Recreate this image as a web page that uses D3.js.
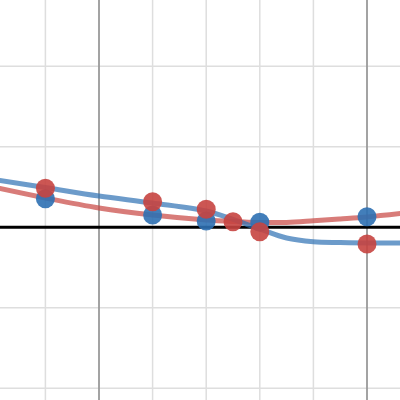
<!DOCTYPE html>
<html><head><meta charset="utf-8">
<script src="https://cdn.jsdelivr.net/npm/d3@7"></script>
<style>html,body{margin:0;padding:0;background:#fff;}svg{display:block;}</style>
</head><body>
<svg id="c" width="400" height="400"></svg>
<script>
// Data
const blueX = [4, 6, 7, 8, 10];
const blueY = [0.354, 0.153, 0.078, 0.062, 0.132];
const redX = [4, 6, 7, 7.5, 8, 10];
const redY = [0.484, 0.318, 0.225, 0.070, -0.055, -0.207];
const blueCurveX = [3.15, 4, 5, 6, 7, 7.5, 8, 8.5, 9, 9.5, 10, 10.62];
const blueCurveY = [0.581, 0.494, 0.389, 0.302, 0.202, 0.097, -0.021, -0.133, -0.179, -0.189, -0.195, -0.195];
const redCurveX = [3.15, 4, 5, 6, 7, 7.5, 8, 8.5, 9, 9.5, 10, 10.62];
const redCurveY = [0.482, 0.364, 0.240, 0.153, 0.091, 0.072, 0.060, 0.060, 0.080, 0.103, 0.128, 0.171];
const xGrid = [4, 5, 6, 7, 8, 9, 10];
const xMajor = [5, 10];
const yGrid = [-2, -1, 1, 2];

const W = 400, H = 400;
const x = d3.scaleLinear().domain([5 - 99 / 53.6, 10 + 33 / 53.6]).range([0, W]);
const y = d3.scaleLinear().domain([-(400 - 227.3) / 80.5, 227.3 / 80.5]).range([H, 0]);
const svg = d3.select("#c");

// minor grid
svg.append("g").selectAll("line").data(xGrid.filter(v => !xMajor.includes(v))).join("line")
  .attr("x1", d => x(d)).attr("x2", d => x(d)).attr("y1", 0).attr("y2", H)
  .attr("stroke", "#dedede").attr("stroke-width", 1.5);
svg.append("g").selectAll("line").data(yGrid).join("line")
  .attr("y1", d => y(d)).attr("y2", d => y(d)).attr("x1", 0).attr("x2", W)
  .attr("stroke", "#dedede").attr("stroke-width", 1.5);
// major grid
svg.append("g").selectAll("line").data(xMajor).join("line")
  .attr("x1", d => x(d)).attr("x2", d => x(d)).attr("y1", 0).attr("y2", H)
  .attr("stroke", "#999").attr("stroke-width", 1.8);
// x axis
svg.append("line").attr("x1", 0).attr("x2", W).attr("y1", y(0)).attr("y2", y(0))
  .attr("stroke", "#000").attr("stroke-width", 3);

const line = d3.line().x(d => x(d[0])).y(d => y(d[1])).curve(d3.curveCatmullRom.alpha(0.5));
svg.append("path").datum(redCurveX.map((v, i) => [v, redCurveY[i]]))
  .attr("d", line).attr("fill", "none").attr("stroke", "#c74440")
  .attr("stroke-opacity", 0.7).attr("stroke-width", 5).attr("stroke-linecap", "round");
svg.append("path").datum(blueCurveX.map((v, i) => [v, blueCurveY[i]]))
  .attr("d", line).attr("fill", "none").attr("stroke", "#2d70b3")
  .attr("stroke-opacity", 0.7).attr("stroke-width", 5).attr("stroke-linecap", "round");

svg.append("g").selectAll("circle").data(blueX.map((v, i) => [v, blueY[i]])).join("circle")
  .attr("cx", d => x(d[0])).attr("cy", d => y(d[1])).attr("r", 9.5)
  .attr("fill", "#2d70b3").attr("fill-opacity", 0.9);
svg.append("g").selectAll("circle").data(redX.map((v, i) => [v, redY[i]])).join("circle")
  .attr("cx", d => x(d[0])).attr("cy", d => y(d[1])).attr("r", 9.5)
  .attr("fill", "#c74440").attr("fill-opacity", 0.9);
</script>
</body></html>
